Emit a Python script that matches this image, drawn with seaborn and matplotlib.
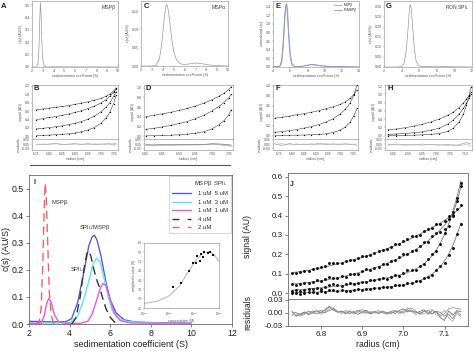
import numpy as np
import matplotlib
matplotlib.use("Agg")
import matplotlib.pyplot as plt
import seaborn as sns
from matplotlib.lines import Line2D

# ---------------- data ----------------
# A: MSPbeta c(s)
A_s = [2.0, 2.4, 2.55, 2.65, 2.72, 2.78, 2.84, 2.9, 2.97, 3.05, 3.15, 3.3, 4, 6, 8, 10]
A_c = [0, 0, 0.02, 0.15, 0.38, 0.52, 0.45, 0.25, 0.1, 0.03, 0.01, 0.0, 0.002, 0.001, 0.001, 0]
# C: MSPalpha c(s)
C_s = [2, 3, 3.4, 3.7, 3.9, 4.1, 4.25, 4.37, 4.5, 4.65, 4.8, 5.0, 5.3, 5.6, 6.0, 6.5, 7.0, 7.5, 8.0, 8.5, 9, 10]
C_c = [0, 0, 0.002, 0.02, 0.06, 0.12, 0.16, 0.168, 0.155, 0.12, 0.08, 0.04, 0.015, 0.006, 0.004, 0.006, 0.008, 0.007, 0.004, 0.002, 0.001, 0]
# E: normalized c(s)
E_s = [4, 4.8, 5.0, 5.2, 5.35, 5.5, 5.6, 5.7, 5.85, 6.0, 6.2, 6.5, 7, 7.5, 8, 8.5, 9, 9.5, 10, 11, 12, 14]
E_gray = [0, 0.01, 0.08, 0.45, 1.0, 1.42, 1.47, 1.3, 0.8, 0.35, 0.08, 0.01, 0.01, 0.02, 0.04, 0.05, 0.04, 0.03, 0.02, 0.01, 0.01, 0.0]
E_blue = [0, 0.02, 0.15, 0.65, 1.2, 1.45, 1.38, 1.1, 0.6, 0.22, 0.05, 0.01, 0.01, 0.02, 0.04, 0.06, 0.05, 0.03, 0.02, 0.01, 0.005, 0]
# G: RON SPI_L c(s)
G_s = [2, 3.5, 4.0, 4.3, 4.55, 4.75, 4.9, 5.0, 5.1, 5.25, 5.45, 5.65, 5.9, 6.3, 7, 8, 9, 10, 12]
G_c = [0, 0, 0.002, 0.02, 0.09, 0.2, 0.29, 0.31, 0.29, 0.2, 0.09, 0.03, 0.008, 0.002, 0.003, 0.004, 0.002, 0.001, 0]

# B: radial scans
B_r = [6.75, 6.775, 6.80, 6.825, 6.85, 6.875, 6.90, 6.925, 6.95, 6.975, 7.00, 7.02, 7.035, 7.05, 7.06]
B_s1 = [0.63, 0.65, 0.67, 0.69, 0.71, 0.73, 0.76, 0.79, 0.82, 0.86, 0.90, 0.95, 1.0, 1.08, 1.15]
B_s2 = [0.40, 0.42, 0.45, 0.47, 0.50, 0.53, 0.57, 0.61, 0.66, 0.72, 0.79, 0.87, 0.95, 1.05, 1.12]
B_s3 = [0.18, 0.19, 0.21, 0.23, 0.25, 0.28, 0.31, 0.35, 0.41, 0.48, 0.58, 0.69, 0.80, 0.95, 1.06]
B_s4 = [0.02, 0.025, 0.03, 0.04, 0.05, 0.06, 0.08, 0.11, 0.15, 0.21, 0.31, 0.43, 0.57, 0.78, 0.98]
B_res1 = [0.000, -0.004, 0.002, 0.006, -0.003, 0.001, 0.004, -0.002, 0.005, -0.003, 0.002, 0.000, 0.006, -0.008, 0.010]
B_res2 = [-0.003, 0.002, -0.001, 0.003, 0.001, -0.004, 0.002, 0.001, -0.002, 0.003, -0.001, 0.004, -0.002, 0.005, -0.006]
# D
D_r = [6.80, 6.825, 6.85, 6.875, 6.90, 6.925, 6.95, 6.975, 7.00, 7.02, 7.035, 7.05, 7.058]
D_s1 = [0.40, 0.43, 0.46, 0.49, 0.53, 0.57, 0.62, 0.68, 0.75, 0.82, 0.88, 0.96, 1.02]
D_s2 = [0.14, 0.16, 0.19, 0.22, 0.26, 0.30, 0.36, 0.43, 0.52, 0.61, 0.69, 0.79, 0.86]
D_s3 = [0.005, 0.008, 0.012, 0.018, 0.027, 0.04, 0.06, 0.09, 0.15, 0.23, 0.31, 0.44, 0.54]
D_res1 = [-0.008, -0.012, -0.006, -0.010, -0.005, -0.008, -0.004, -0.006, -0.002, -0.004, -0.012, -0.018, -0.022]
D_res2 = [-0.015, -0.010, -0.014, -0.008, -0.011, -0.006, -0.009, -0.005, 0.004, 0.002, -0.004, -0.010, -0.016]
D_res3 = [-0.004, -0.007, -0.002, -0.005, -0.001, -0.004, 0.000, -0.002, 0.006, 0.003, 0.000, -0.005, -0.009]
# F
F_r = [6.73, 6.76, 6.79, 6.82, 6.85, 6.88, 6.91, 6.94, 6.97, 7.00, 7.02, 7.04, 7.055, 7.068]
F_s1 = [0.35, 0.37, 0.39, 0.42, 0.44, 0.47, 0.50, 0.54, 0.58, 0.63, 0.68, 0.75, 0.83, 0.92]
F_s2 = [0.065, 0.08, 0.10, 0.12, 0.15, 0.18, 0.22, 0.27, 0.34, 0.44, 0.53, 0.66, 0.82, 1.02]
F_s3 = [0.0, 0.003, 0.005, 0.007, 0.01, 0.015, 0.022, 0.035, 0.06, 0.11, 0.17, 0.27, 0.40, 0.55]
F_res1 = [0.004, -0.010, 0.006, -0.004, 0.002, -0.006, 0.008, -0.003, 0.004, -0.002, 0.005, -0.004, 0.002, -0.012]
F_res2 = [-0.002, 0.005, -0.006, 0.003, -0.003, 0.004, -0.002, 0.006, -0.005, 0.003, -0.001, 0.002, -0.006, 0.004]
# H
H_r = [6.83, 6.86, 6.89, 6.92, 6.95, 6.98, 7.01, 7.04, 7.06, 7.08, 7.095, 7.105, 7.115, 7.122]
H_s1 = [0.14, 0.16, 0.19, 0.23, 0.27, 0.33, 0.40, 0.49, 0.57, 0.68, 0.79, 0.88, 0.97, 1.05]
H_s2 = [0.03, 0.04, 0.05, 0.07, 0.09, 0.13, 0.18, 0.28, 0.38, 0.52, 0.66, 0.78, 0.90, 1.00]
H_s3 = [0.0, 0.002, 0.005, 0.01, 0.018, 0.03, 0.05, 0.10, 0.18, 0.33, 0.52, 0.73, 0.98, 1.18]
H_res1 = [0.000, -0.004, -0.002, -0.005, 0.001, -0.003, -0.006, -0.002, -0.008, -0.004, 0.006, 0.012, 0.004, 0.010]
H_res2 = [-0.006, -0.002, -0.007, -0.003, -0.006, -0.001, -0.004, -0.008, -0.003, -0.010, -0.005, 0.002, -0.006, -0.012]

# I: c(s) distributions of mixtures
I_red_s = [2.3, 2.5, 2.6, 2.68, 2.75, 2.8, 2.85, 2.92, 3.0, 3.1, 3.2, 3.4]
I_red_c = [0, 0.005, 0.06, 0.22, 0.43, 0.52, 0.47, 0.3, 0.12, 0.03, 0.005, 0]
I_pink_s = [2.0, 2.6, 2.75, 2.85, 2.97, 3.1, 3.25, 3.45, 3.8, 4.5, 4.9, 5.1, 5.3, 5.5, 5.65, 5.8, 6.0, 6.2, 6.5, 7.0, 8, 9, 9.5, 10]
I_pink_c = [0.003, 0.003, 0.03, 0.07, 0.095, 0.08, 0.035, 0.008, 0.002, 0.002, 0.01, 0.035, 0.08, 0.13, 0.15, 0.14, 0.09, 0.04, 0.012, 0.004, 0.003, 0.005, 0.004, 0.0]
I_cyan_s = [2, 3, 4.0, 4.4, 4.7, 4.95, 5.15, 5.32, 5.5, 5.7, 5.9, 6.1, 6.4, 6.8, 7.5, 8.5, 10]
I_cyan_c = [0.003, 0.003, 0.005, 0.03, 0.09, 0.16, 0.22, 0.243, 0.23, 0.17, 0.1, 0.05, 0.02, 0.01, 0.006, 0.004, 0.003]
I_blue_s = [2, 3, 3.8, 4.1, 4.4, 4.7, 4.95, 5.1, 5.22, 5.35, 5.55, 5.8, 6.0, 6.3, 6.7, 7.2, 8, 9, 10]
I_blue_c = [0.01, 0.008, 0.008, 0.02, 0.08, 0.19, 0.29, 0.32, 0.328, 0.31, 0.25, 0.15, 0.09, 0.04, 0.015, 0.008, 0.005, 0.004, 0.003]
I_black_s = [4.1, 4.3, 4.5, 4.7, 4.85, 4.95, 5.05, 5.2, 5.35, 5.5, 5.65, 5.8, 6.0, 6.2, 6.4]
I_black_c = [0.0, 0.02, 0.09, 0.2, 0.26, 0.27, 0.25, 0.2, 0.16, 0.13, 0.09, 0.055, 0.025, 0.008, 0.0]
I_legend = ["1 uM  5 uM", "1 uM  3 uM", "1 uM  1 uM", "4 uM", "2 uM"]
# inset: weighted s-value vs concentration
in_conc = [1.48e-7, 3.16e-7, 6.2e-7, 9.1e-7, 1.17e-6, 1.26e-6, 1.78e-6, 1.9e-6, 2.19e-6, 2.4e-6, 3.47e-6, 4.57e-6, 5.62e-6]
in_sw = [3.65, 3.85, 4.5, 4.95, 4.95, 5.3, 5.05, 5.4, 5.25, 5.5, 5.45, 5.5, 5.35]
in_fit_c = [1e-8, 3.2e-8, 1e-7, 2.7e-7, 6.2e-7, 1.23e-6, 2.3e-6, 4.2e-6, 6.6e-6, 1e-5]
in_fit_s = [2.75, 2.85, 3.15, 3.7, 4.5, 5.1, 5.45, 5.55, 5.35, 5.0]

# J: radial scans with fits and residuals
J_r = [6.73, 6.74, 6.75, 6.76, 6.77, 6.78, 6.79, 6.80, 6.81, 6.82,
       6.83, 6.84, 6.85, 6.86, 6.87, 6.88, 6.89, 6.90, 6.91, 6.92,
       6.93, 6.94, 6.95, 6.96, 6.97, 6.98, 6.99, 7.00, 7.01, 7.02,
       7.03, 7.04, 7.05, 7.06, 7.07, 7.08, 7.09, 7.10, 7.11, 7.12,
       7.13, 7.14]
J_fit1 = [0.105, 0.108, 0.111, 0.114, 0.118, 0.122, 0.126, 0.130, 0.135, 0.140,
          0.145, 0.150, 0.156, 0.162, 0.167, 0.172, 0.178, 0.184, 0.191, 0.198,
          0.205, 0.213, 0.221, 0.229, 0.237, 0.245, 0.254, 0.263, 0.272, 0.282,
          0.293, 0.304, 0.315, 0.327, 0.338, 0.350, 0.362, 0.375, 0.390, 0.405,
          0.425, 0.445]
J_fit2 = [0.046, 0.048, 0.050, 0.052, 0.055, 0.057, 0.060, 0.063, 0.066, 0.070,
          0.074, 0.078, 0.083, 0.088, 0.093, 0.098, 0.104, 0.110, 0.116, 0.123,
          0.130, 0.137, 0.145, 0.153, 0.161, 0.170, 0.180, 0.190, 0.201, 0.212,
          0.225, 0.239, 0.254, 0.270, 0.287, 0.306, 0.327, 0.350, 0.378, 0.410,
          0.470, 0.550]
J_fit3 = [0.015, 0.016, 0.018, 0.019, 0.021, 0.023, 0.025, 0.027, 0.029, 0.031,
          0.034, 0.036, 0.039, 0.042, 0.045, 0.048, 0.051, 0.055, 0.058, 0.062,
          0.066, 0.070, 0.074, 0.078, 0.083, 0.088, 0.093, 0.099, 0.106, 0.114,
          0.124, 0.136, 0.151, 0.170, 0.193, 0.222, 0.258, 0.302, 0.356, 0.420,
          0.495, 0.580]
J_fit4 = [0.000, 0.001, 0.002, 0.002, 0.003, 0.004, 0.005, 0.006, 0.007, 0.008,
          0.009, 0.010, 0.011, 0.012, 0.014, 0.015, 0.017, 0.019, 0.020, 0.022,
          0.024, 0.026, 0.028, 0.030, 0.033, 0.036, 0.039, 0.042, 0.046, 0.051,
          0.057, 0.064, 0.073, 0.084, 0.098, 0.115, 0.137, 0.165, 0.200, 0.245,
          0.300, 0.362]
J_res1 = [-0.004, -0.006, -0.002, 0.001, -0.003, 0.004, 0.002, 0.006, 0.004, 0.013,
          0.010, 0.003, 0.001, 0.005, 0.002, -0.002, 0.004, 0.007, 0.001, -0.003,
          0.002, 0.005, -0.001, 0.000, 0.003, 0.006, 0.001, 0.004, 0.008, 0.011,
          0.004, -0.004, 0.003, 0.006, -0.002, 0.004, -0.008, -0.002, 0.009, 0.012,
          0.010, 0.008]
J_res2 = [0.003, -0.008, -0.004, 0.002, -0.005, 0.001, 0.005, 0.000, 0.007, 0.015,
          0.006, 0.002, 0.004, -0.003, 0.003, 0.001, -0.004, 0.002, 0.006, -0.002,
          0.001, -0.001, 0.004, -0.003, 0.002, -0.002, 0.005, 0.009, 0.002, 0.006,
          -0.001, 0.003, 0.007, -0.004, 0.005, 0.002, -0.012, -0.018, 0.004, -0.006,
          0.005, 0.002]
J_res3 = [-0.006, -0.003, -0.008, -0.004, 0.002, -0.002, 0.003, -0.004, 0.002, 0.008,
          0.012, 0.004, -0.002, 0.002, 0.005, -0.003, 0.001, 0.003, -0.002, 0.004,
          -0.001, 0.002, 0.001, -0.004, 0.000, 0.004, -0.003, 0.002, 0.012, 0.004,
          -0.005, 0.001, -0.003, 0.004, 0.008, -0.006, -0.004, 0.006, -0.012, -0.020,
          -0.002, -0.010]
J_res4 = [0.001, 0.000, -0.005, -0.002, 0.004, 0.001, -0.003, 0.002, 0.000, 0.005,
          0.009, 0.001, 0.003, 0.000, -0.002, 0.003, 0.005, -0.001, 0.002, 0.000,
          0.003, -0.002, 0.002, 0.001, -0.002, 0.003, 0.002, -0.001, 0.006, 0.002,
          0.003, -0.002, 0.004, 0.001, -0.003, 0.003, 0.001, -0.008, -0.004, -0.014,
          0.003, -0.006]

# ---------------- drawing ----------------
sns.set_theme(style="ticks")
plt.rcParams['font.family'] = ['Liberation Sans', 'DejaVu Sans']
plt.rcParams['mathtext.default'] = 'regular'

W, H = 474, 351
fig = plt.figure(figsize=(W / 100, H / 100), dpi=100)


def add_ax(x0, y0, x1, y1):
    return fig.add_axes([x0 / W, 1 - y1 / H, (x1 - x0) / W, (y1 - y0) / H])


def line(ax, x, y, **kw):
    sns.lineplot(x=np.asarray(x, float), y=np.asarray(y, float), ax=ax,
                 estimator=None, sort=False, legend=False, **kw)


def dots(ax, x, y, s, color='black', marker='o'):
    sns.scatterplot(x=np.asarray(x, float), y=np.asarray(y, float), ax=ax, s=s,
                    color=color, linewidth=0, marker=marker, legend=False, zorder=3)


def small_style(ax, fs=2.6):
    for sp in ax.spines.values():
        sp.set_color('#8a8a8a')
        sp.set_linewidth(0.4)
    ax.tick_params(labelsize=fs, length=1.0, width=0.3, pad=0.6, colors='#8a8a8a',
                   labelcolor='#555555')


def letter(x, y, t, fs=5.5):
    fig.text(x / W, 1 - y / H, t, fontsize=fs, fontweight='bold', color='#222222',
             va='center', ha='left')


SM = 2.6
LC = '#555555'

# --- A
ax = add_ax(32, 1, 118, 67)
line(ax, A_s, A_c, color='#9a9a9a', linewidth=0.5)
ax.set_xlim(2, 10); ax.set_ylim(0, 0.535)
ax.set_xticks(range(2, 11)); ax.set_xticklabels([str(v) for v in range(2, 10)] + ['10'])
ax.set_yticks([0, 0.1, 0.2, 0.3, 0.4, 0.5])
ax.set_yticklabels(['0.0', '0.1', '0.2', '0.3', '0.4', '0.5'])
small_style(ax)
ax.set_xlabel('sedimentation coefficient (S)', fontsize=SM, labelpad=0.8, color=LC)
ax.set_ylabel('c(s) (AU/S)', fontsize=SM, labelpad=1, color=LC)
ax.text(0.97, 0.9, 'MSPβ', transform=ax.transAxes, ha='right', va='center', fontsize=3.8, color='#444444')
letter(1, 6, 'A')

# --- C
ax = add_ax(141, 1, 228, 66)
line(ax, C_s, C_c, color='#9a9a9a', linewidth=0.5)
ax.set_xlim(2, 10); ax.set_ylim(0, 0.178)
ax.set_xticks(range(2, 11))
ax.set_yticks([0, 0.05, 0.10, 0.15]); ax.set_yticklabels(['0.00', '0.05', '0.10', '0.15'])
small_style(ax)
ax.set_xlabel('sedimentation coefficient (S)', fontsize=SM, labelpad=0.8, color=LC)
ax.set_ylabel('c(s) (AU/S)', fontsize=SM, labelpad=1, color=LC)
ax.text(0.97, 0.9, 'MSPα', transform=ax.transAxes, ha='right', va='center', fontsize=3.8, color='#444444')
letter(144, 6, 'C')

# --- E
ax = add_ax(273, 1, 359, 67)
line(ax, E_s, E_gray, color='#a8a8a8', linewidth=0.6)
line(ax, E_s, E_blue, color='#8c8ce0', linewidth=0.6)
ax.set_xlim(4, 14); ax.set_ylim(0, 1.53)
ax.set_xticks([4, 6, 8, 10, 12, 14])
ax.set_yticks([0, 0.2, 0.4, 0.6, 0.8, 1.0, 1.2, 1.4])
ax.set_yticklabels(['0.0', '0.2', '0.4', '0.6', '0.8', '1.0', '1.2', '1.4'])
small_style(ax)
ax.set_xlabel('sedimentation coefficient (S)', fontsize=SM, labelpad=0.8, color=LC)
ax.set_ylabel('normalized c(s)', fontsize=SM, labelpad=1, color=LC)
ax.legend(handles=[Line2D([], [], color='#a8a8a8', lw=0.6), Line2D([], [], color='#8c8ce0', lw=0.6)],
          labels=['MSPβ', 'PvMSPβ'], loc='upper right', fontsize=2.4, frameon=False,
          handlelength=2.5, borderaxespad=0.3, labelspacing=0.2, handletextpad=0.4)
letter(275, 6, 'E')

# --- G
ax = add_ax(384, 1, 472, 67)
line(ax, G_s, G_c, color='#9a9a9a', linewidth=0.5)
ax.set_xlim(2, 12); ax.set_ylim(0, 0.328)
ax.set_xticks([2, 4, 6, 8, 10, 12])
ax.set_yticks([0, 0.05, 0.10, 0.15, 0.20, 0.25, 0.30])
ax.set_yticklabels(['0.00', '0.05', '0.10', '0.15', '0.20', '0.25', '0.30'])
small_style(ax)
ax.set_xlabel('sedimentation coefficient (S)', fontsize=SM, labelpad=0.8, color=LC)
ax.set_ylabel('c(s) (AU/S)', fontsize=SM, labelpad=1, color=LC)
ax.text(0.97, 0.9, 'RON SPI$_L$', transform=ax.transAxes, ha='right', va='center', fontsize=3.6, color='#444444')
letter(386, 6, 'G')


# --- scan panels
def scan_panel(x0, x1, r, series, res, xlim, ylim, yticks, ytl, rylim, rticks, rtl, xticks, xtl, let, lx):
    m = add_ax(x0, 85, x1, 138.5)
    for s in series:
        line(m, r, s, color='#555555', linewidth=0.45)
        dots(m, r, s, s=0.9, color='#111111')
    m.set_xlim(*xlim); m.set_ylim(*ylim)
    m.set_yticks(yticks); m.set_yticklabels(ytl)
    m.set_xticks(xticks); m.set_xticklabels([])
    small_style(m)
    m.set_ylabel('signal (AU)', fontsize=SM, labelpad=1, color=LC)
    rr = add_ax(x0, 138.5, x1, 150)
    greys = ['#9a9a9a', '#b5b5b5', '#808080']
    for i, q in enumerate(res):
        line(rr, r, q, color=greys[i % 3], linewidth=0.45)
    rr.set_xlim(*xlim); rr.set_ylim(*rylim)
    rr.set_yticks(rticks); rr.set_yticklabels(rtl)
    rr.set_xticks(xticks); rr.set_xticklabels(xtl)
    small_style(rr, fs=2.4)
    rr.set_ylabel('residuals', fontsize=SM, labelpad=1, color=LC)
    rr.set_xlabel('radius (cm)', fontsize=SM, labelpad=0.8, color=LC)
    letter(lx, 89, let)


scan_panel(32, 118, B_r, [B_s1, B_s2, B_s3, B_s4], [B_res1, B_res2], (6.733, 7.067), (-0.05, 1.22),
           [0, 0.2, 0.4, 0.6, 0.8, 1.0, 1.2], ['0.0', '0.2', '0.4', '0.6', '0.8', '1.0', '1.2'],
           (-0.04, 0.04), [-0.03, 0, 0.03], ['-0.03', '0.00', '0.03'],
           [6.75, 6.80, 6.85, 6.90, 6.95, 7.00, 7.05], ['6.75', '6.80', '6.85', '6.90', '6.95', '7.00', '7.05'], 'B', 34)
scan_panel(144, 233, D_r, [D_s1, D_s2, D_s3], [D_res1, D_res2, D_res3], (6.795, 7.063), (-0.05, 1.055),
           [0, 0.2, 0.4, 0.6, 0.8, 1.0], ['0.0', '0.2', '0.4', '0.6', '0.8', '1.0'],
           (-0.062, 0.062), [-0.05, 0, 0.05], ['-0.05', '0.00', '0.05'],
           [6.80, 6.85, 6.90, 6.95, 7.00, 7.05], ['6.80', '6.85', '6.90', '6.95', '7.00', '7.05'], 'D', 146)
scan_panel(273, 358, F_r, [F_s1, F_s2, F_s3], [F_res1, F_res2], (6.723, 7.072), (-0.06, 1.02),
           [0, 0.2, 0.4, 0.6, 0.8, 1.0], ['0.0', '0.2', '0.4', '0.6', '0.8', '1.0'],
           (-0.05, 0.05), [-0.04, 0, 0.04], ['-0.04', '0.00', '0.04'],
           [6.75, 6.80, 6.85, 6.90, 6.95, 7.00, 7.05], ['6.75', '6.80', '6.85', '6.90', '6.95', '7.00', '7.05'], 'F', 275)
scan_panel(385, 472, H_r, [H_s1, H_s2, H_s3], [H_res1, H_res2], (6.82, 7.125), (-0.07, 1.225),
           [0, 0.2, 0.4, 0.6, 0.8, 1.0, 1.2], ['0.0', '0.2', '0.4', '0.6', '0.8', '1.0', '1.2'],
           (-0.04, 0.04), [-0.03, 0, 0.03], ['-0.03', '0.00', '0.03'],
           [6.85, 6.90, 6.95, 7.00, 7.05, 7.10], ['6.85', '6.90', '6.95', '7.00', '7.05', '7.10'], 'H', 387)

# separator line
fig.add_artist(Line2D([30 / W, 230 / W], [1 - 165 / H, 1 - 165 / H], color='#555555', lw=0.8))

# --- I
ax = add_ax(29, 175, 232, 324)
c_blue, c_cyan, c_pink, c_black, c_red = '#5a5ad8', '#5ee6ea', '#e65ae6', '#333333', '#f06464'
dash = (0, (6, 3.5))
line(ax, I_blue_s, I_blue_c, color=c_blue, linewidth=1.0)
line(ax, I_cyan_s, I_cyan_c, color=c_cyan, linewidth=1.0)
line(ax, I_pink_s, I_pink_c, color=c_pink, linewidth=1.0)
line(ax, I_black_s, I_black_c, color=c_black, linewidth=1.0, linestyle=dash)
line(ax, I_red_s, I_red_c, color=c_red, linewidth=1.0, linestyle=dash)
ax.set_xlim(2, 12); ax.set_ylim(0, 0.55)
ax.set_xticks([2, 4, 6, 8, 10, 12])
ax.set_yticks([0, 0.1, 0.2, 0.3, 0.4, 0.5])
ax.set_yticklabels(['0.0', '0.1', '0.2', '0.3', '0.4', '0.5'])
for sp in ax.spines.values():
    sp.set_color('#6a6a6a'); sp.set_linewidth(0.6)
ax.tick_params(labelsize=6.3, length=2.0, width=0.5, pad=1.5, colors='#555555', labelcolor='#222222')
ax.set_xlabel('sedimentation coefficient (S)', fontsize=6.5, labelpad=1.5, color='#222222')
ax.set_ylabel('$c$(s) (AU/S)', fontsize=6.5, color='#222222')
ax.yaxis.set_label_coords(-0.079, 0.5)
ax.text(3.12, 0.45, 'MSPβ', fontsize=4.2, color='#333333', ha='left', va='center')
ax.text(4.45, 0.355, 'SPI$_L$/MSPβ', fontsize=4.2, color='#333333', ha='left', va='center')
ax.text(4.0, 0.2, 'SPI$_L$', fontsize=4.2, color='#333333', ha='left', va='center')
handles = [Line2D([], [], color=c_blue, lw=1.0), Line2D([], [], color=c_cyan, lw=1.0),
           Line2D([], [], color=c_pink, lw=1.0),
           Line2D([], [], color=c_black, lw=1.0, linestyle=(0, (5, 6))),
           Line2D([], [], color=c_red, lw=1.0, linestyle=(0, (5, 6)))]
leg = ax.legend(handles=handles, labels=I_legend, loc='upper right', fontsize=4.3,
                title='MSPβ  SPI$_L$', title_fontsize=4.3, alignment='right',
                frameon=True, fancybox=False, edgecolor='#aaaaaa', borderaxespad=0.15,
                handlelength=3.2, handletextpad=1.2, labelspacing=0.55, borderpad=0.5)
leg.get_frame().set_linewidth(0.4)
for t in leg.get_texts():
    t.set_color('#333333')
leg.get_title().set_color('#333333')
letter(33, 183, 'I', fs=5)

# --- inset
ax = add_ax(144, 243, 219, 308)
ax.set_xscale('log')
line(ax, in_fit_c, in_fit_s, color='#c2c2c2', linewidth=0.9)
dots(ax, in_conc, in_sw, s=2.2, color='#111111', marker='s')
ax.set_xlim(1e-8, 1e-5); ax.set_ylim(2.5, 6.0)
ax.set_xticks([1e-8, 1e-7, 1e-6, 1e-5])
ax.set_xticklabels(['$10^{-8}$', '$10^{-7}$', '$10^{-6}$', '$10^{-5}$'])
ax.xaxis.set_minor_locator(matplotlib.ticker.NullLocator())
ax.set_yticks([2.5, 3.0, 3.5, 4.0, 4.5, 5.0, 5.5, 6.0])
ax.set_yticklabels(['2.5', '3.0', '3.5', '4.0', '4.5', '5.0', '5.5', '6.0'])
small_style(ax, fs=2.2)
ax.set_xlabel('concentration (M)', fontsize=2.4, labelpad=0.6, color=LC)
ax.set_ylabel('weighted s-value (S)', fontsize=2.4, labelpad=1, color=LC)

# --- J
m = add_ax(288, 173, 468, 299)
fits = [J_fit1, J_fit2, J_fit3, J_fit4]
ress = [J_res1, J_res2, J_res3, J_res4]
for f, q in zip(fits, ress):
    pts = np.asarray(f) + np.asarray(q)
    line(m, J_r, f, color='#8a8a8a', linewidth=0.7)
    dots(m, J_r, pts, s=4.5, color='#111111')
m.set_xlim(6.72, 7.157); m.set_ylim(-0.031, 0.62)
m.set_xticks([6.8, 6.9, 7.0, 7.1]); m.set_xticklabels([])
m.set_yticks([0, 0.1, 0.2, 0.3, 0.4, 0.5, 0.6])
m.set_yticklabels(['0.0', '0.1', '0.2', '0.3', '0.4', '0.5', '0.6'])
for sp in m.spines.values():
    sp.set_color('#6a6a6a'); sp.set_linewidth(0.6)
m.tick_params(labelsize=5.8, length=2.0, width=0.5, pad=1.5, colors='#555555', labelcolor='#222222')
m.set_ylabel('signal (AU)', fontsize=6.2, color='#222222')
m.yaxis.set_label_coords(-0.2, 0.5)
rr = add_ax(288, 299, 468, 326)
for q, cc in zip(ress, ['#9a9a9a', '#7a7a7a', '#b0b0b0', '#8a8a8a']):
    line(rr, J_r, q, color=cc, linewidth=0.6)
rr.set_xlim(6.72, 7.157); rr.set_ylim(-0.031, 0.032)
rr.set_xticks([6.8, 6.9, 7.0, 7.1]); rr.set_xticklabels(['6.8', '6.9', '7.0', '7.1'])
rr.set_yticks([-0.03, 0, 0.03]); rr.set_yticklabels(['-0.03', '0.00', '0.03'])
for sp in rr.spines.values():
    sp.set_color('#6a6a6a'); sp.set_linewidth(0.6)
rr.tick_params(labelsize=5.8, length=2.0, width=0.5, pad=1.5, colors='#555555', labelcolor='#222222')
rr.set_ylabel('residuals', fontsize=6.2, color='#222222')
rr.yaxis.set_label_coords(-0.2, 0.5)
rr.set_xlabel('radius (cm)', fontsize=6.2, labelpad=1.5, color='#222222')
letter(290, 184, 'J', fs=5)

fig.savefig('out.png', dpi=100)
